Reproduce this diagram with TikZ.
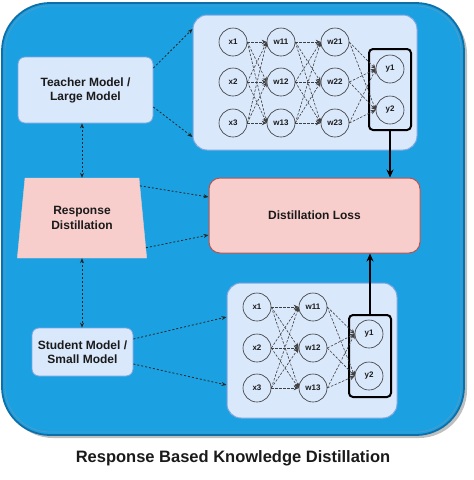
\documentclass[tikz,border=0pt]{standalone}
\usepackage{fontspec}
\setmainfont{Liberation Sans}
\usetikzlibrary{arrows.meta,shapes.geometric,calc}
\definecolor{outerblue}{HTML}{1BA1E2}
\definecolor{outerline}{HTML}{0E6FA8}
\definecolor{panelfill}{HTML}{DAE8FC}
\definecolor{panelline}{HTML}{7EA6E0}
\definecolor{redfill}{HTML}{F8CECC}
\definecolor{redline}{HTML}{B85450}
\definecolor{txt}{HTML}{1A1A1A}
\tikzset{
  lbox/.style={draw=panelline, fill=panelfill, rounded corners=7pt, line width=0.8pt, align=center, font=\bfseries\fontsize{12}{14}\selectfont, text=txt, inner sep=0pt},
  panel/.style={draw=panelline, fill=panelfill, rounded corners=14pt, line width=1pt},
  neuron/.style={circle, draw=black!80, fill=panelfill, line width=0.6pt, minimum size=28pt, inner sep=0pt, font=\bfseries\fontsize{8}{9}\selectfont, text=txt},
  nnedge/.style={draw=black!75, line width=0.6pt, dash pattern=on 2.5pt off 1.5pt, -{Stealth[length=5pt,width=4.5pt]}},
  dotarrow/.style={draw=black!85, line width=0.8pt, dash pattern=on 2pt off 2pt, -{Stealth[length=5pt,width=4pt]}},
  dotboth/.style={draw=black!85, line width=0.8pt, dash pattern=on 2pt off 2pt, {Stealth[length=5pt,width=4pt]}-{Stealth[length=5pt,width=4pt]}},
  ybox/.style={draw=black, line width=2pt, rounded corners=4pt, inner sep=0pt},
  thickarrow/.style={draw=black, line width=1.8pt, -{Stealth[length=8pt,width=7pt]}},
}
\begin{document}
\begin{tikzpicture}[x=1pt,y=-1pt]
\useasboundingbox (0,0) rectangle (474,480);
% outer container
\fill[black!25, rounded corners=48pt] (5,6) rectangle (467,438);
\path[fill=outerblue, draw=outerline, line width=1.8pt, rounded corners=48pt] (2,3) rectangle (464,435);
\draw[outerline!70, line width=0.7pt, rounded corners=45pt] (5,6) rectangle (461,432);

% panels
\node[panel, minimum width=224pt, minimum height=135pt] (tpanel) at (305,82.5) {};
\node[panel, minimum width=170pt, minimum height=135pt] (spanel) at (312,350.5) {};

% boxes
\node[lbox, minimum width=135pt, minimum height=66pt] (teacher) at (85.5,90) {Teacher Model /\\Large Model};
\node[lbox, minimum width=101pt, minimum height=48pt] (student) at (82.5,352) {Student Model /\\Small Model};
\node[draw=redline, fill=redfill, rounded corners=11pt, line width=1pt, minimum width=211pt, minimum height=75pt, font=\bfseries\fontsize{12}{14}\selectfont, text=txt] (loss) at (314.5,215.5) {Distillation Loss};
\node[trapezium, trapezium left angle=80, trapezium right angle=80, trapezium stretches=true, minimum width=130pt, minimum height=80pt, fill=redfill, draw=redfill!80!black!10!redfill, align=center, font=\bfseries\fontsize{12}{15}\selectfont, text=txt, inner sep=0pt] (rd) at (82,218) {Response\\Distillation};

% y boxes
\node[ybox, minimum width=42pt, minimum height=81pt] (tybox) at (390,89.5) {};
\node[ybox, minimum width=42pt, minimum height=82pt] (sybox) at (370,356) {};

% teacher network
\foreach \i/\yy in {1/42,2/82,3/123}{
  \node[neuron] (tx\i) at (233,\yy) {x\i};
  \node[neuron] (tw1\i) at (281,\yy) {w1\i};
  \node[neuron] (tw2\i) at (335,\yy) {w2\i};
}
\node[neuron] (ty1) at (390,69) {y1};
\node[neuron] (ty2) at (390,110) {y2};
\foreach \i in {1,2,3}{
  \foreach \j in {1,2,3}{
    \draw[nnedge] (tx\i.east) -- (tw1\j.west);
    \draw[nnedge] (tw1\i.east) -- (tw2\j.west);
  }
  \foreach \j in {1,2}{
    \draw[nnedge] (tw2\i.east) -- (ty\j.west);
  }
}

% student network
\foreach \i/\yy in {1/307,2/348,3/388}{
  \node[neuron] (sx\i) at (257,\yy) {x\i};
  \node[neuron] (sw\i) at (313,\yy) {w1\i};
}
\node[neuron] (sy1) at (369,334) {y1};
\node[neuron] (sy2) at (369,376) {y2};
\foreach \i in {1,2,3}{
  \foreach \j in {1,2,3}{
    \draw[nnedge] (sx\i.east) -- (sw\j.west);
  }
  \foreach \j in {1,2}{
    \draw[nnedge] (sw\i.east) -- (sy\j.west);
  }
}

% dotted connectors
\draw[dotarrow] ($(teacher.east)+(0,-22)$) -- ($(tpanel.west)+(0,-53.5)$);
\draw[dotarrow] ($(teacher.east)+(0,17)$) -- ($(tpanel.west)+(0,54.5)$);
\draw[dotarrow] ($(student.east)+(0,-13)$) -- ($(spanel.west)+(0,-33.5)$);
\draw[dotarrow] ($(student.east)+(0,12)$) -- ($(spanel.west)+(0,34.5)$);
\draw[dotboth] (rd.north |- teacher.south) -- (rd.north);
\draw[dotboth] (rd.south) -- (rd.south |- student.north);
\draw[dotarrow] ($(rd.top right corner)!0.1!(rd.bottom right corner)$) -- ($(loss.west)+(0,-18.5)$);
\draw[dotarrow] ($(rd.top right corner)!0.87!(rd.bottom right corner)$) -- ($(loss.west)+(0,19.5)$);

% thick arrows
\draw[thickarrow] (tybox.south) -- (tybox.south |- loss.north);
\draw[thickarrow] (sybox.north) -- (sybox.north |- loss.south);

% title
\node[font=\bfseries\fontsize{16.5}{20}\selectfont, text=txt] (title) at (233,458) {Response Based Knowledge Distillation};
\end{tikzpicture}
\end{document}
